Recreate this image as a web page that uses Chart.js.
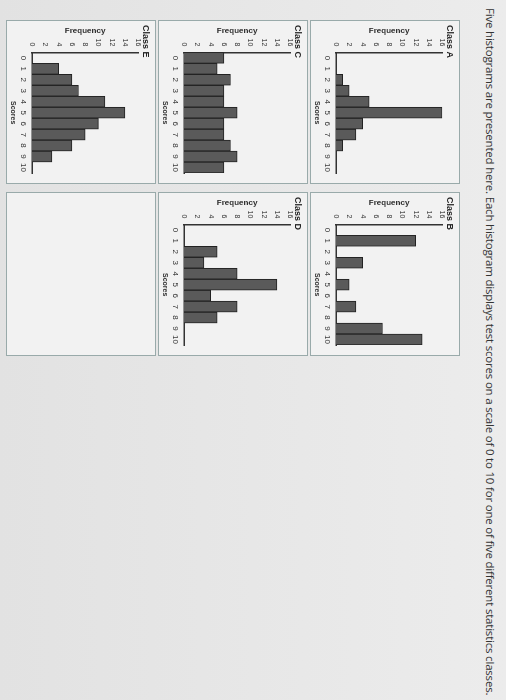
<!DOCTYPE html>
<html>
<head>
<meta charset="UTF-8" />
<script src="https://cdn.jsdelivr.net/npm/chart.js"></script>
<style>
  body { margin: 0; background: #dcdcdc; overflow: hidden; }
  #page {
    position: absolute; left: 0; top: 0; width: 700px; height: 506px;
    transform-origin: 0 0; transform: translate(506px, 0) rotate(90deg);
    background: linear-gradient(#ececec, #e2e2e2);
    font-family: "Open Sans", sans-serif;
  }
  #title { position: absolute; left: 8px; top: 8px; font-size: 11.5px; color: #333; white-space: nowrap; letter-spacing: -0.2px; }
  .panel {
    position: absolute; width: 162px; height: 148px;
    border: 1px solid #9aa; background: #f2f2f2;
  }
</style>
</head>
<body>
<div id="page">
  <div id="title">Five histograms are presented here. Each histogram displays test scores on a scale of 0 to 10 for one of five different statistics classes.</div>
  <div class="panel" style="left:20px;top:46px"><canvas id="cA" width="162" height="148"></canvas></div>
  <div class="panel" style="left:192px;top:46px"><canvas id="cB" width="162" height="148"></canvas></div>
  <div class="panel" style="left:20px;top:198px"><canvas id="cC" width="162" height="148"></canvas></div>
  <div class="panel" style="left:192px;top:198px"><canvas id="cD" width="162" height="148"></canvas></div>
  <div class="panel" style="left:20px;top:350px"><canvas id="cE" width="162" height="148"></canvas></div>
  <div class="panel" style="left:192px;top:350px"></div>
</div>
<script>
  const scores = ['0', '1', '2', '3', '4', '5', '6', '7', '8', '9', '10'];
  const classA = [0, 0, 1, 2, 5, 16, 4, 3, 1, 0, 0];
  const classB = [0, 12, 0, 4, 0, 2, 0, 3, 0, 7, 13];
  const classC = [6, 5, 7, 6, 6, 8, 6, 6, 7, 8, 6];
  const classD = [0, 0, 5, 3, 8, 14, 4, 8, 5, 0, 0];
  const classE = [0, 4, 6, 7, 11, 14, 10, 8, 6, 3, 0];

  function histogram(id, name, values) {
    new Chart(document.getElementById(id), {
      type: 'bar',
      data: {
        labels: scores,
        datasets: [{ data: values, backgroundColor: '#5a5a5a', borderColor: '#222', borderWidth: 1,
          barPercentage: 1, categoryPercentage: 1 }]
      },
      options: {
        responsive: false, animation: false,
        layout: { padding: { left: 4, right: 10, top: 0, bottom: 2 } },
        plugins: {
          legend: { display: false },
          title: { display: true, text: name, align: 'start', color: '#222',
            font: { size: 9, weight: 'bold' }, padding: { top: 4, bottom: 2 } }
        },
        scales: {
          x: {
            grid: { display: false, tickLength: 3 },
            border: { color: '#333', width: 1.5 },
            ticks: { color: '#333', font: { size: 8 }, maxRotation: 0, autoSkip: false, padding: 1 },
            title: { display: true, text: 'Scores', color: '#333', font: { size: 7, weight: 'bold' }, padding: 0 }
          },
          y: {
            min: 0, max: 16,
            grid: { display: false, drawTicks: true, tickLength: 4 },
            border: { color: '#333', width: 1.5 },
            ticks: { stepSize: 2, autoSkip: false, color: '#333', font: { size: 7 }, padding: 2 },
            title: { display: true, text: 'Frequency', color: '#333', font: { size: 8, weight: 'bold' }, padding: 1 }
          }
        }
      }
    });
  }

  histogram('cA', 'Class A', classA);
  histogram('cB', 'Class B', classB);
  histogram('cC', 'Class C', classC);
  histogram('cD', 'Class D', classD);
  histogram('cE', 'Class E', classE);
</script>
</body>
</html>
